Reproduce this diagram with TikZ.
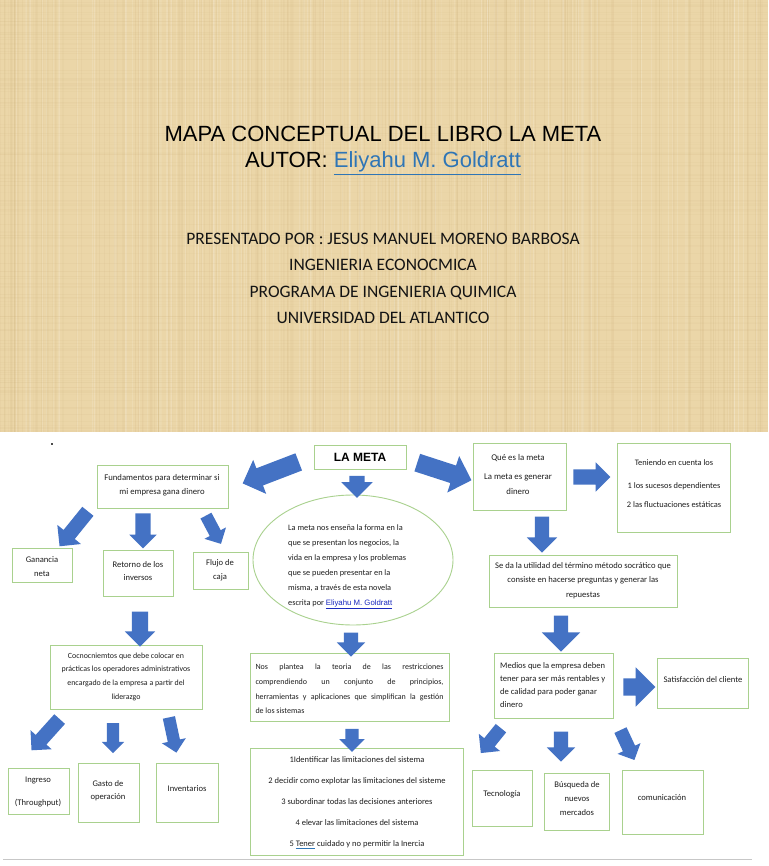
\documentclass[tikz,border=0pt]{standalone}
\usepackage{fontspec}
\setmainfont{Carlito}
\newfontfamily\arialf{Liberation Sans}
\usetikzlibrary{shapes.geometric,shapes.arrows}
\definecolor{beige}{RGB}{235,214,168}
\definecolor{beigedark}{RGB}{200,170,115}
\definecolor{boxgreen}{RGB}{169,209,142}
\definecolor{arrowblue}{RGB}{68,114,196}
\definecolor{linkblue}{RGB}{46,117,182}
\definecolor{txt}{RGB}{30,30,30}
\definecolor{hyper}{RGB}{25,40,190}
\newcommand{\mapbx}[5]{\node[box, minimum width=#4, minimum height=#5] (#1) at (#2,#3) {};}
% name, centre, angle, length, half shaft width, head extend
\newcommand{\barr}[6]{\node[barrow, minimum height=#4, inner ysep=#5, single arrow head extend=#6, rotate=#3] (#1) at (#2) {};}
\begin{document}
\begin{tikzpicture}[x=1pt,y=-1pt,
  box/.style={draw=boxgreen, line width=0.9pt, fill=white, inner sep=0, anchor=north west},
  lbl/.style={text=txt, font=\fontsize{8.6}{14}\selectfont, align=center, inner sep=0},
  barrow/.style={single arrow, fill=arrowblue, draw=none, inner xsep=0pt, single arrow head indent=0pt},
  title/.style={font=\arialf\fontsize{22}{26}\selectfont, text=black, inner sep=0, anchor=base},
  sub/.style={font=\fontsize{17.5}{20}\selectfont, text=black!92, inner sep=0, anchor=base},
]
\useasboundingbox (0,0) rectangle (768,866);
% ---------- slide background ----------
\fill[beige] (0,0) rectangle (768,432);
\pgfmathsetseed{11}
\foreach \i in {0,...,260}{
  \pgfmathsetmacro{\xx}{rnd*768}
  \pgfmathsetmacro{\ww}{0.3+rnd*1.2}
  \pgfmathsetmacro{\oo}{0.04+rnd*0.10}
  \draw[beigedark, line width=\ww, opacity=\oo] (\xx,0) -- (\xx,432);
}
\foreach \i in {0,...,120}{
  \pgfmathsetmacro{\xx}{rnd*768}
  \pgfmathsetmacro{\ww}{0.3+rnd*1.0}
  \pgfmathsetmacro{\oo}{0.06+rnd*0.12}
  \draw[white, line width=\ww, opacity=\oo] (\xx,0) -- (\xx,432);
}
\foreach \i in {0,...,140}{
  \pgfmathsetmacro{\yy}{rnd*432}
  \pgfmathsetmacro{\oo}{0.03+rnd*0.07}
  \draw[beigedark, line width=0.5, opacity=\oo] (0,\yy) -- (768,\yy);
}
\fill[white] (0,432) rectangle (768,866);

% ---------- titles ----------
\node[title] (t1) at (383,142) {MAPA CONCEPTUAL DEL LIBRO LA META};
\node[title] (t2) at (383,168) {AUTOR: {\color{linkblue}\underline{Eliyahu M. Goldratt}}};
\node[sub] (s1) at (383,245) {PRESENTADO POR : JESUS MANUEL MORENO BARBOSA};
\node[sub] (s2) at (383,271) {INGENIERIA ECONOCMICA};
\node[sub] (s3) at (383,297) {PROGRAMA DE INGENIERIA QUIMICA};
\node[sub] (s4) at (383,323) {UNIVERSIDAD DEL ATLANTICO};

% ---------- map ----------
\fill[black!70] (51,443) rectangle (53,445);
\draw[black!22, line width=0.8] (3,859) -- (752,859);

% boxes
\mapbx{meta}{314}{445}{92}{24}
\mapbx{fund}{97}{465}{131}{43}
\mapbx{gan}{12}{548}{60}{34}
\mapbx{ret}{103}{550}{70}{46}
\mapbx{flu}{193}{552}{55}{37}
\mapbx{cocno}{50}{645}{152}{64}
\mapbx{ing}{8}{768}{61}{46}
\mapbx{gas}{78}{763}{61}{59}
\mapbx{inv}{156}{763}{62}{59}
\mapbx{nos}{250}{653}{199}{68}
\mapbx{steps}{250}{748}{213}{107}
\mapbx{que}{473}{443}{93}{67}
\mapbx{ten}{617}{443}{113}{89}
\mapbx{soc}{489}{555}{188}{52}
\mapbx{med}{494}{653}{119}{65}
\mapbx{sat}{657}{658}{91}{50}
\mapbx{tec}{472}{770}{60}{56}
\mapbx{bus}{544}{773}{65}{57}
\mapbx{com}{622}{770}{81}{64}
\node[draw=boxgreen, line width=0.9pt, ellipse, minimum width=200, minimum height=130, inner sep=0] (ell) at (353,560) {};

% texts
\node[inner sep=0, font=\arialf\bfseries\fontsize{12}{14}\selectfont] (metat) at (360,457) {LA META};
\node[lbl, font=\fontsize{8.7}{14}\selectfont] (fundt) at (162,485) {Fundamentos para determinar si\\mi empresa gana dinero};
\node[lbl] (gant) at (42,567) {Ganancia\\neta};
\node[lbl, font=\fontsize{8.6}{13}\selectfont] (rett) at (138,571.5) {Retorno de los\\inversos};
\node[lbl] (flut) at (220,570) {Flujo de\\caja};
\node[lbl, font=\fontsize{7.9}{13.7}\selectfont] (cocnot) at (126,676.5) {Cocnocniemtos que debe colocar en\\prácticas los operadores administrativos\\encargado de la empresa a partir del\\liderazgo};
\node[lbl, font=\fontsize{8.6}{23}\selectfont] (ingt) at (38,791.5) {Ingreso\\(Throughput)};
\node[lbl, font=\fontsize{8.6}{13}\selectfont] (gast) at (108,790.5) {Gasto de\\operación};
\node[lbl] (invt) at (187,789) {Inventarios};
\node[lbl, font=\fontsize{8.3}{15}\selectfont, align=left, anchor=west] (ellt) at (288,566.5) {La meta nos enseña la forma en la\\que se presentan los negocios, la\\vida en la empresa y los problemas\\que se pueden presentar en la\\misma, a través de esta novela\\escrita por {\arialf\fontsize{7.8}{15}\selectfont\color{hyper}\underline{Eliyahu M. Goldratt}}};
\node[lbl, font=\fontsize{8}{14.7}\selectfont, align=justify, text width=188] (nost) at (349.5,689) {Nos plantea la teoria de las restricciones\linebreak comprendiendo un conjunto de principios,\linebreak herramientas y aplicaciones que simplifican la gestión\linebreak de los sistemas};
\node[lbl, font=\fontsize{8.5}{21.2}\selectfont] (stepst) at (357,802.5) {1Identificar las limitaciones del sistema\\2 decidir como explotar las limitaciones del sisteme\\3 subordinar todas las decisiones anteriores\\4 elevar las limitaciones del sistema\\5 {\color{linkblue}\underline{\color{txt}Tener}} cuidado y no permitir la Inercia};
\node[lbl, font=\fontsize{8.8}{14}\selectfont] (quet1) at (518,458) {Qué es la meta};
\node[lbl, font=\fontsize{8.8}{15}\selectfont] (quet2) at (518,484.5) {La meta es generar\\dinero};
\node[lbl, font=\fontsize{8.4}{14}\selectfont] (tent1) at (674,463) {Teniendo en cuenta los};
\node[lbl, font=\fontsize{8.4}{14}\selectfont] (tent2) at (674,486) {1 los sucesos dependientes};
\node[lbl, font=\fontsize{8.4}{14}\selectfont] (tent3) at (674,505) {2 las fluctuaciones estáticas};
\node[lbl, font=\fontsize{8.6}{14.5}\selectfont] (soct) at (583,580.5) {Se da la utilidad del término método socrático que\\consiste en hacerse preguntas y generar las\\repuestas};
\node[lbl, font=\fontsize{8.55}{13}\selectfont, align=left, anchor=west] (medt) at (500,685.5) {Medios que la empresa deben\\tener para ser más rentables y\\de calidad para poder ganar\\dinero};
\node[lbl] (satt) at (703,680) {Satisfacción del cliente};
\node[lbl] (tect) at (502,794) {Tecnología};
\node[lbl] (bust) at (577,799) {Búsqueda de\\nuevos\\mercados};
\node[lbl] (comt) at (662,798) {comunicación};

% block arrows
\barr{a1}{275,471}{201}{60}{9}{9}
\barr{a2}{440,470}{-18}{57}{9}{10}
\barr{a3}{357,483}{-90}{22}{7.5}{8}
\barr{a4}{76,526}{231}{45}{7}{8}
\barr{a5}{143,527}{-90}{35}{7.5}{6}
\barr{a6}{212,527}{-62}{32}{6}{6}
\barr{a7}{140,625}{-90}{35}{8}{7}
\barr{a8}{48,732}{228}{42}{7}{7}
\barr{a9}{113,735}{-90}{30}{6}{5}
\barr{a10}{172,732}{-78}{36}{6}{6}
\barr{a11}{351,641}{-90}{24}{7}{7}
\barr{a12}{352,737}{-90}{23}{6.5}{6}
\barr{a13}{588,477}{0}{37}{7.5}{7}
\barr{a14}{542,531}{-90}{36}{7}{8}
\barr{a15}{561,630}{-90}{36}{7}{12}
\barr{a16}{635,687}{0}{32}{8.5}{11}
\barr{a17}{493,738}{231}{32}{6.5}{7}
\barr{a18}{561,743}{-90}{30}{7}{7}
\barr{a19}{626,742}{-65}{33}{6.5}{6}
\end{tikzpicture}
\end{document}
